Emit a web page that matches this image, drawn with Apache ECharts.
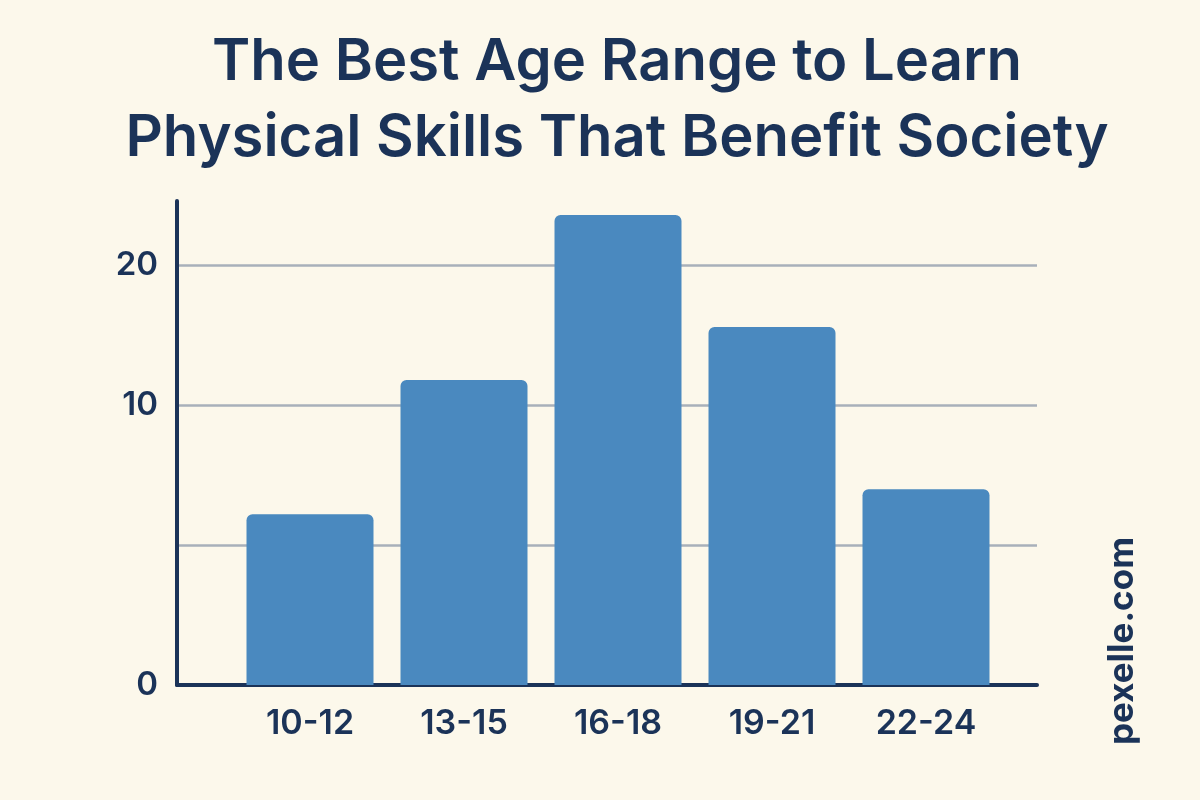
<!DOCTYPE html>
<html>
<head>
<meta charset="utf-8">
<script src="https://cdn.jsdelivr.net/npm/echarts@6/dist/echarts.min.js"></script>
<style>
  html, body { margin: 0; padding: 0; background: #fcf8eb; }
  #main { width: 1200px; height: 800px; }
</style>
</head>
<body>
<div id="main"></div>
<script>
// data
var categories = ['10-12', '13-15', '16-18', '19-21', '22-24'];
var values = [6.1, 10.9, 16.8, 12.8, 7.0];
// tick labels as printed on the picture (ticks every 5)
var yTickValues = [0, 5, 10, 15];
var yTickLabels = ['0', '', '10', '20'];

var navy = '#1b3358';
var chart = echarts.init(document.getElementById('main'));

var option = {
  backgroundColor: '#fcf8eb',
  animation: false,
  textStyle: { fontFamily: 'Inter' },
  title: {
    text: 'The Best Age Range to Learn\nPhysical Skills That Benefit Society',
    left: 612,
    textAlign: 'center',
    top: 20,
    textStyle: {
      fontFamily: 'Inter',
      fontSize: 58,
      fontWeight: 600,
      color: navy,
      lineHeight: 76
    }
  },
  grid: [
    { left: 177, right: 163, top: 201, bottom: 115 },
    { left: 233, right: 197, top: 201, bottom: 115 }
  ],
  xAxis: [
    {
      gridIndex: 0,
      type: 'category',
      data: categories,
      axisLine: { lineStyle: { color: navy, width: 4 } },
      axisTick: { show: false },
      axisLabel: { show: false }
    },
    {
      gridIndex: 1,
      type: 'category',
      data: categories,
      axisLine: { show: false },
      axisTick: { show: false },
      axisLabel: {
        margin: 22,
        fontFamily: 'Inter',
        fontSize: 34,
        fontWeight: 600,
        color: navy
      }
    }
  ],
  yAxis: [
    {
      gridIndex: 0,
      type: 'value',
      min: 0,
      max: 17.3,
      interval: 5,
      axisLine: { show: true, lineStyle: { color: navy, width: 4 } },
      axisTick: { show: false },
      axisLabel: {
        margin: 19,
        fontFamily: 'Inter',
        fontSize: 33,
        fontWeight: 600,
        color: navy,
        formatter: function (v) {
          var i = yTickValues.indexOf(v);
          return i >= 0 ? yTickLabels[i] : '';
        }
      },
      splitLine: {
        show: true,
        lineStyle: {
          // first (0) and last (axis top) lines hidden
          color: ['rgba(0,0,0,0)', '#a8b0ba', '#a8b0ba', '#a8b0ba', 'rgba(0,0,0,0)'],
          width: 2.5
        }
      }
    },
    {
      gridIndex: 1,
      type: 'value',
      min: 0,
      max: 17.3,
      show: false,
      splitLine: { show: false }
    }
  ],
  graphic: [
    {
      type: 'text',
      x: 1122,
      y: 641,
      rotation: Math.PI / 2,
      style: {
        text: 'pexelle.com',
        fontFamily: 'Inter',
        fontSize: 35,
        fontWeight: 700,
        fill: navy,
        align: 'center',
        verticalAlign: 'middle'
      }
    }
  ],
  series: [
    {
      type: 'bar',
      xAxisIndex: 1,
      yAxisIndex: 1,
      data: values,
      barWidth: 127,
      itemStyle: {
        color: '#4a89bf',
        borderRadius: [6, 6, 0, 0]
      }
    }
  ]
};

chart.setOption(option);
</script>
</body>
</html>
